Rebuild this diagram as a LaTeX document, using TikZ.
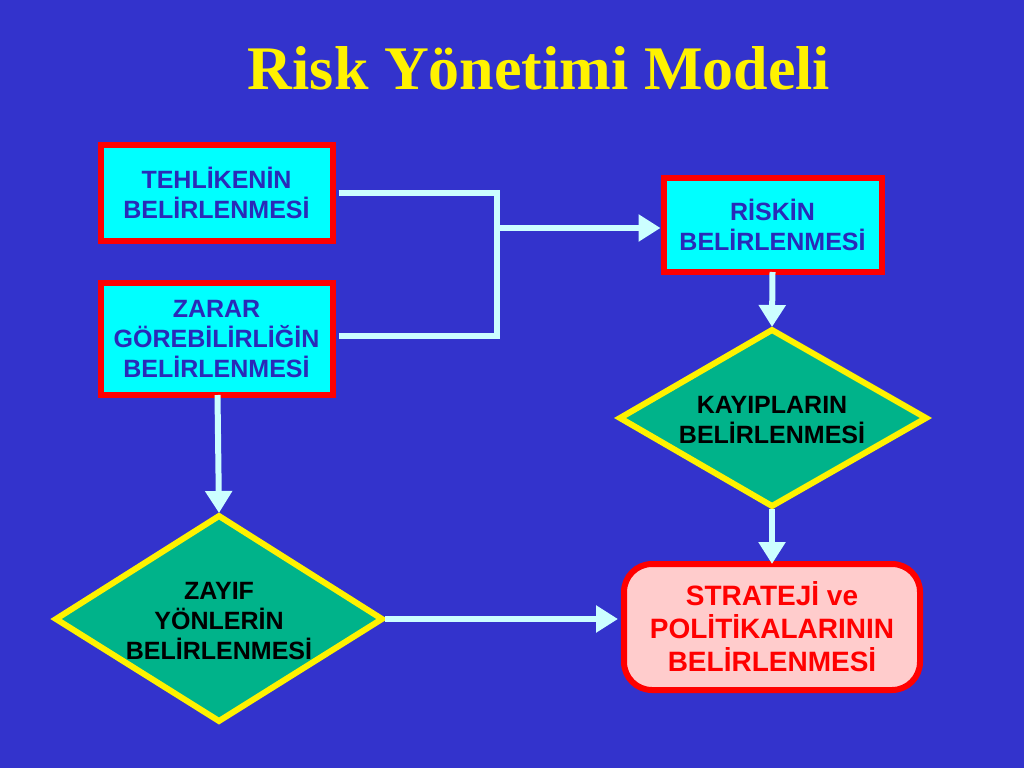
\documentclass[tikz,border=0pt]{standalone}
\usepackage{fontspec}
\setmainfont{Liberation Sans}
\newfontfamily\titlefont{Liberation Serif}
\usetikzlibrary{arrows.meta,shapes.geometric}
\definecolor{bg}{HTML}{3333CC}
\definecolor{cyanbox}{HTML}{00FFFF}
\definecolor{txtblue}{HTML}{2A2AB8}
\definecolor{dgreen}{HTML}{00B38A}
\definecolor{conn}{HTML}{CCFFFF}
\definecolor{pinkbox}{HTML}{FFCCCC}
\begin{document}
\begin{tikzpicture}[x=1pt,y=-1pt,
  rbox/.style={draw=red,line width=6pt,fill=cyanbox,text=txtblue,font=\bfseries\fontsize{25}{30}\selectfont,align=center,inner sep=0pt},
  dia/.style={draw=yellow,line width=6pt,fill=dgreen,line join=miter},
  dtext/.style={text=black,font=\bfseries\fontsize{25}{30}\selectfont,align=center},
  conline/.style={draw=conn,line width=6pt},
  arr/.style={conline,-{Triangle[length=22pt,width=26pt]}}]
\fill[bg] (0,0) rectangle (1024,768);
\useasboundingbox (0,0) rectangle (1024,768);
\node[text=yellow,font=\titlefont\bfseries\fontsize{62}{68}\selectfont] (title) at (539,68) {Risk Yönetimi Modeli};
\node[rbox,minimum width=232pt,minimum height=96pt] (b1) at (216.5,193) {TEHLİKENİN\\BELİRLENMESİ};
\node[rbox,minimum width=232pt,minimum height=112pt] (b2) at (216.5,339) {ZARAR\\GÖREBİLİRLİĞİN\\BELİRLENMESİ};
\node[rbox,minimum width=218pt,minimum height=94pt] (b3) at (772.5,225) {RİSKİN\\BELİRLENMESİ};
% diamond 1
\draw[dia] (772,330) -- (926,418) -- (772,506) -- (620,418) -- cycle;
\coordinate (d1t) at (772,327); \coordinate (d1b) at (772,509);
\node[dtext] (d1) at (772,420) {KAYIPLARIN\\BELİRLENMESİ};
% diamond 2
\draw[dia] (219,516) -- (382,619) -- (219,721) -- (56,619) -- cycle;
\coordinate (d2t) at (219,513); \coordinate (d2r) at (385,619);
\node[dtext] (d2) at (219,621) {ZAYIF\\YÖNLERİN\\BELİRLENMESİ};
% rounded rect
\node[draw=red,line width=6pt,fill=pinkbox,rounded corners=28pt,minimum width=296pt,minimum height=126pt,inner sep=0pt,text=red,font=\bfseries\fontsize{28}{33}\selectfont,align=center] (s) at (772,627) {STRATEJİ ve\\POLİTİKALARININ\\BELİRLENMESİ};
% connectors
\coordinate (j1) at (497,193); \coordinate (j2) at (497,336); \coordinate (jm) at (497,228);
\draw[conline] (b1.east) ++(3,0) -- (j1) -- (j2) -- ([xshift=3pt]b2.east |- j2);
\draw[arr] (jm) -- (b3.west |- jm);
\draw[arr] ([xshift=1pt,yshift=3pt]b2.south) -- (d2t);
\draw[arr] ([yshift=3pt]b3.south) -- (d1t);
\draw[arr] (d1b) -- ([yshift=-3pt]s.north);
\draw[arr] (d2r) -- ([xshift=-3pt]s.west |- d2r);
\end{tikzpicture}
\end{document}
